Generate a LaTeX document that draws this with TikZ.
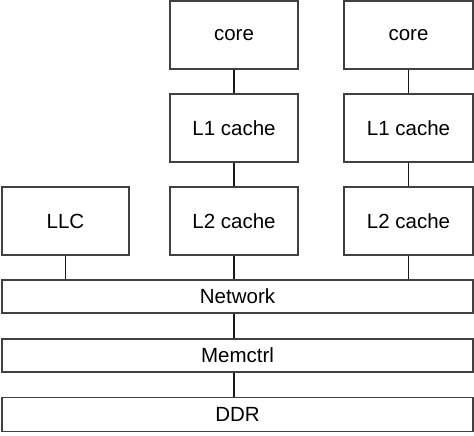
\documentclass[tikz,border=0pt]{standalone}
\usepackage{fontspec}
\setmainfont{Liberation Sans}
\begin{document}
\begin{tikzpicture}[x=1pt,y=-1pt,
  box/.style={draw=black!75, line width=1.8pt, fill=white, inner sep=0pt, font=\fontsize{20.5}{24}\selectfont, text=black},
  wire/.style={draw=black!90, line width=1.7pt}]
\useasboundingbox (0,0) rectangle (474,436);
% boxes
\node[box, minimum width=128pt, minimum height=68pt] (core1) at (234,35) {core};
\node[box, minimum width=129pt, minimum height=68pt] (core2) at (408.5,35) {core};
\node[box, minimum width=128pt, minimum height=68pt] (l1a) at (234,128) {L1 cache};
\node[box, minimum width=129pt, minimum height=68pt] (l1b) at (408.5,128) {L1 cache};
\node[box, minimum width=127pt, minimum height=68pt] (llc) at (65.5,221) {LLC};
\node[box, minimum width=128pt, minimum height=68pt] (l2a) at (234,221) {L2 cache};
\node[box, minimum width=129pt, minimum height=68pt] (l2b) at (408.5,221) {L2 cache};
\node[box, minimum width=471pt, minimum height=33pt] (net) at (237.5,296.5) {Network};
\node[box, minimum width=471pt, minimum height=33pt] (mem) at (237.5,355.5) {Memctrl};
\node[box, minimum width=471pt, minimum height=34pt] (ddr) at (237.5,414.5) {DDR};
% connectors
\draw[wire] (core1.south) -- (l1a.north);
\draw[wire] (core2.south) -- (l1b.north);
\draw[wire] (l1a.south) -- (l2a.north);
\draw[wire] (l1b.south) -- (l2b.north);
\draw[wire] (llc.south) -- (llc.south |- net.north);
\draw[wire] (l2a.south) -- (l2a.south |- net.north);
\draw[wire] (l2b.south) -- (l2b.south |- net.north);
\draw[wire] (l2a.south |- net.south) -- (l2a.south |- mem.north);
\draw[wire] (l2a.south |- mem.south) -- (l2a.south |- ddr.north);
\end{tikzpicture}
\end{document}
